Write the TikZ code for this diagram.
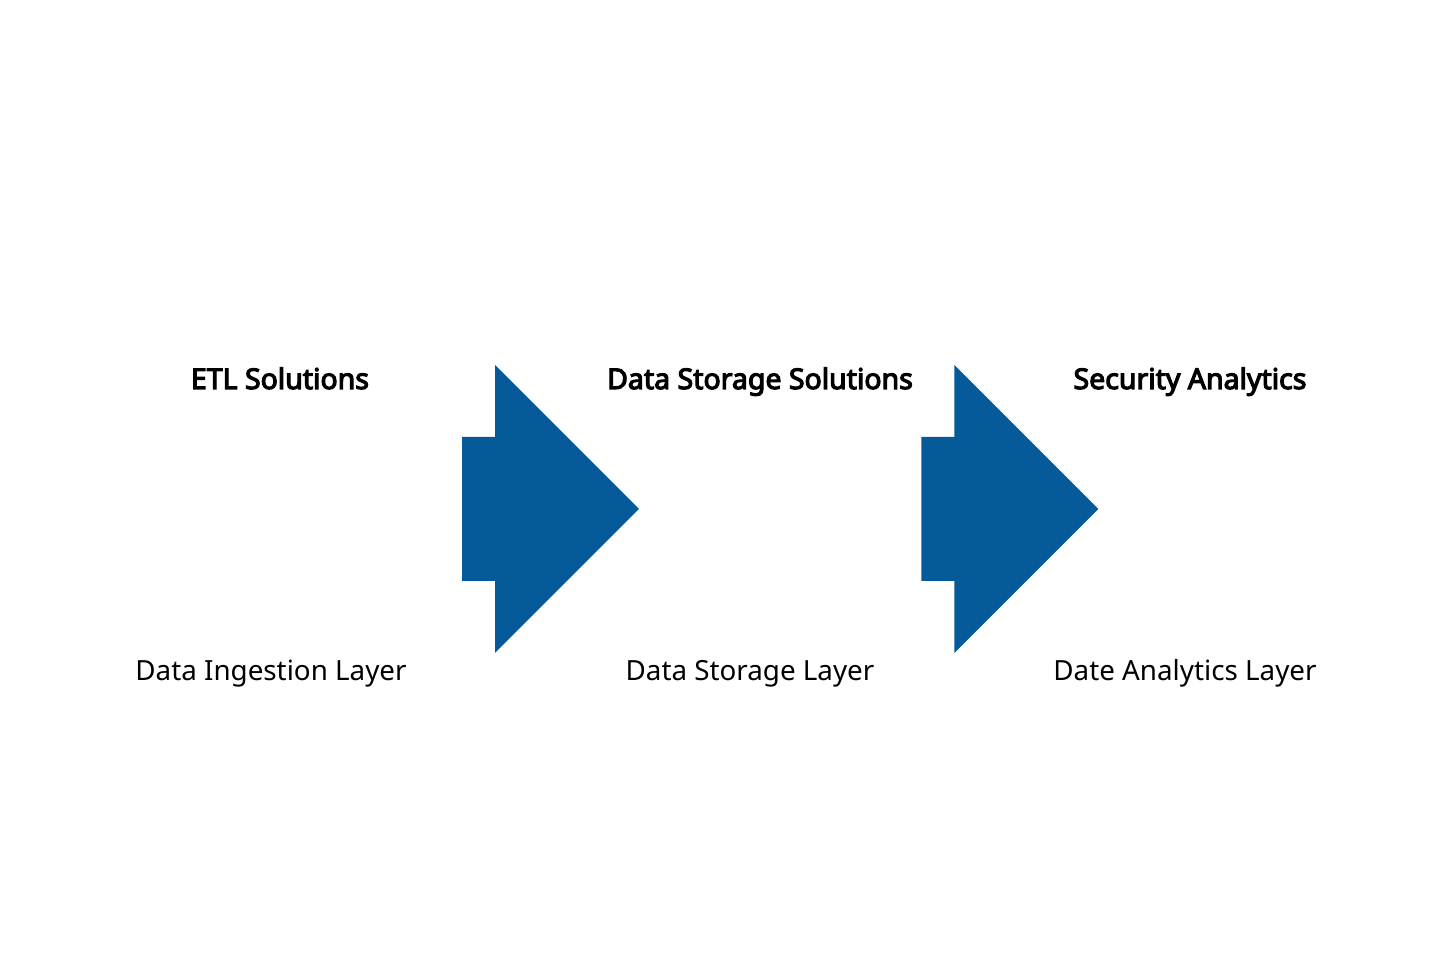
\documentclass[tikz,border=0pt]{standalone}
\usepackage{fontspec}
\setmainfont{Noto Sans}
\newfontfamily\titlefont{Noto Sans}[FakeBold=4]
\definecolor{arrowblue}{HTML}{055A9A}
\tikzset{
    title/.style={anchor=base, font=\fontsize{8.1}{9}\selectfont\titlefont},
    layer/.style={anchor=base, font=\fontsize{7.9}{9}\selectfont},
}
\begin{document}
\begin{tikzpicture}[x=0.01cm, y=-0.01cm]
\useasboundingbox (0,0) rectangle (1456,970);
\begin{scope}
    \fill[arrowblue] (462,437)--(495,437)--(495,365)--(639,509)--(495,653)--(495,581)--(462,581)--cycle;
\end{scope}
\begin{scope}[xshift=4.59cm]
    \fill[arrowblue] (462,437)--(495,437)--(495,365)--(639,509)--(495,653)--(495,581)--(462,581)--cycle;
\end{scope}
\node[title] (etl) at (280,389) {ETL Solutions};
\node[title] (storage) at (760,389) {Data Storage Solutions};
\node[title] (security) at (1190,389) {Security Analytics};
\node[layer] (ingestion) at (271,681) {Data Ingestion Layer};
\node[layer] (storagelayer) at (750,681) {Data Storage Layer};
\node[layer] (analytics) at (1185,681) {Date Analytics Layer};
\end{tikzpicture}
\end{document}
